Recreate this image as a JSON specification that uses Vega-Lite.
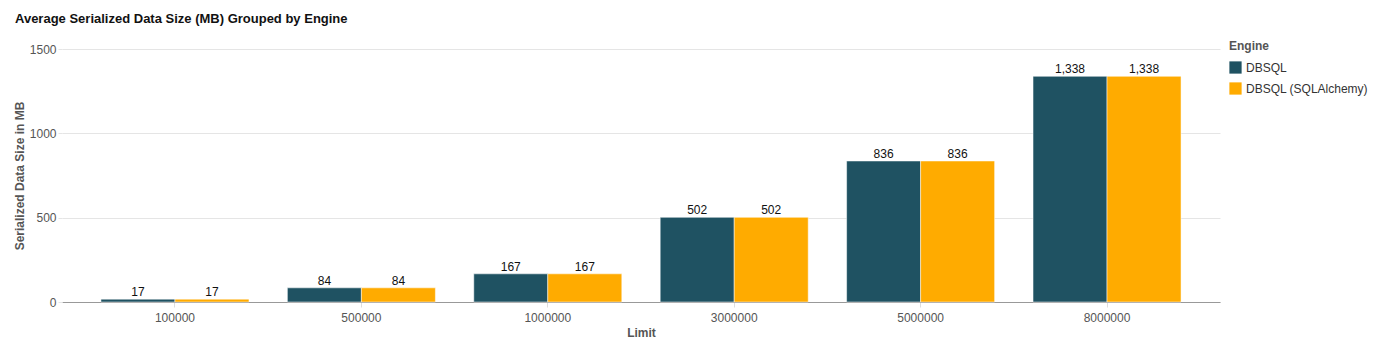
{
  "$schema": "https://vega.github.io/schema/vega-lite/v6.json",
  "autosize": {"type": "none"},
  "padding": {"left": 62, "top": 49, "right": 169, "bottom": 54},
  "width": 1158,
  "height": 253,
  "background": "white",
  "title": {
    "text": "Average Serialized Data Size (MB) Grouped by Engine",
    "anchor": "start",
    "frame": "group",
    "font": "Liberation Sans",
    "fontSize": 13,
    "fontWeight": "bold",
    "color": "#111111",
    "dx": -47,
    "offset": 15
  },
  "data": {
    "values": [
      {"Limit": "100000", "Engine": "DBSQL", "size": 17},
      {"Limit": "100000", "Engine": "DBSQL (SQLAlchemy)", "size": 17},
      {"Limit": "500000", "Engine": "DBSQL", "size": 84},
      {"Limit": "500000", "Engine": "DBSQL (SQLAlchemy)", "size": 84},
      {"Limit": "1000000", "Engine": "DBSQL", "size": 167},
      {"Limit": "1000000", "Engine": "DBSQL (SQLAlchemy)", "size": 167},
      {"Limit": "3000000", "Engine": "DBSQL", "size": 502},
      {"Limit": "3000000", "Engine": "DBSQL (SQLAlchemy)", "size": 502},
      {"Limit": "5000000", "Engine": "DBSQL", "size": 836},
      {"Limit": "5000000", "Engine": "DBSQL (SQLAlchemy)", "size": 836},
      {"Limit": "8000000", "Engine": "DBSQL", "size": 1338},
      {"Limit": "8000000", "Engine": "DBSQL (SQLAlchemy)", "size": 1338}
    ]
  },
  "encoding": {
    "x": {
      "field": "Limit",
      "type": "nominal",
      "sort": null,
      "title": "Limit",
      "scale": {"paddingInner": 0.206, "paddingOuter": 0.209},
      "axis": {
        "labelAngle": 0,
        "labelFont": "Liberation Sans",
        "labelFontSize": 12,
        "labelColor": "#555555",
        "labelPadding": 5,
        "titleFont": "Liberation Sans",
        "titleFontSize": 12,
        "titleFontWeight": "bold",
        "titleColor": "#555555",
        "titlePadding": 4,
        "domainColor": "#999999",
        "tickColor": "#dddddd",
        "tickSize": 5
      }
    },
    "xOffset": {"field": "Engine", "type": "nominal", "scale": {"paddingInner": 0, "paddingOuter": 0}},
    "y": {
      "field": "size",
      "type": "quantitative",
      "title": "Serialized Data Size in MB",
      "scale": {"domain": [0, 1500]},
      "axis": {
        "values": [0, 500, 1000, 1500],
        "format": "d",
        "labelFont": "Liberation Sans",
        "labelFontSize": 12,
        "labelColor": "#555555",
        "labelPadding": 2,
        "titleFont": "Liberation Sans",
        "titleFontSize": 12,
        "titleFontWeight": "bold",
        "titleColor": "#555555",
        "titlePadding": 3,
        "domain": false,
        "tickColor": "#e5e5e5",
        "tickSize": 4,
        "gridColor": "#e5e5e5"
      }
    }
  },
  "layer": [
    {
      "mark": {"type": "bar", "stroke": "#ffffff", "strokeWidth": 0.5},
      "encoding": {
        "color": {
          "field": "Engine",
          "type": "nominal",
          "scale": {"domain": ["DBSQL", "DBSQL (SQLAlchemy)"], "range": ["#1f5262", "#ffab00"]},
          "legend": {
            "title": "Engine",
            "orient": "none",
            "legendX": 1167,
            "legendY": -8,
            "symbolType": "square",
            "symbolSize": 150,
            "symbolStrokeWidth": 0,
            "titleFont": "Liberation Sans",
            "titleFontSize": 12,
            "titleFontWeight": "bold",
            "titleColor": "#555555",
            "titlePadding": 8,
            "labelFont": "Liberation Sans",
            "labelFontSize": 12,
            "labelColor": "#333333",
            "rowPadding": 8
          }
        }
      }
    },
    {
      "mark": {"type": "text", "dy": -7, "font": "Liberation Sans", "fontSize": 12, "color": "#111111"},
      "encoding": {
        "text": {"field": "size", "type": "quantitative", "format": ","}
      }
    }
  ],
  "config": {"view": {"stroke": null}}
}
